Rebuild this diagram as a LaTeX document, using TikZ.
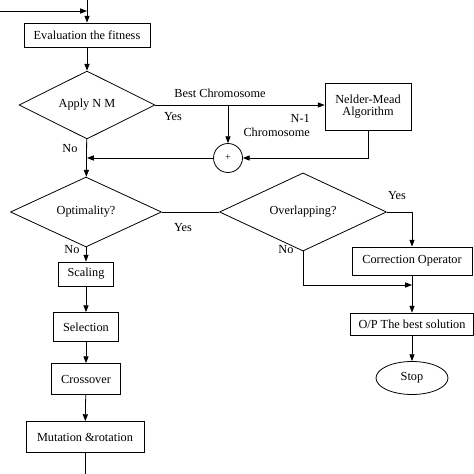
\documentclass[tikz,border=0pt]{standalone}
\usepackage{fontspec}
\setmainfont{Liberation Serif}
\usetikzlibrary{arrows.meta,positioning,shapes.geometric}
\tikzset{stepbox/.style={draw,rectangle,line width=0.8pt,align=center,inner sep=3pt},
  decide/.style={draw,diamond,line width=0.8pt,inner sep=0pt},
  flow/.style={-{Triangle[length=2.4mm,width=1.8mm]},line width=0.8pt},
  link/.style={line width=0.8pt},
  lbl/.style={inner sep=1pt,align=center}}

\begin{document}
\begin{tikzpicture}[x=1pt,y=-1pt,font=\fontsize{12.3}{14}\selectfont]
\useasboundingbox (0,0) rectangle (474,474);
\coordinate (in) at (87,0);
\coordinate (loop) at (0,11);
\node[stepbox,minimum width=126,minimum height=24] (eval) at (87,35) {Evaluation the fitness};
\node[decide,minimum width=136,minimum height=47] (applynm) at (87,105) {Apply N M};
\node[stepbox,minimum width=86,minimum height=47] (nelder) at (368,107) {Nelder-Mead\\[-2pt]Algorithm};
\node[draw,circle,line width=0.8pt,minimum size=29,inner sep=0pt,font=\fontsize{10}{11}\selectfont] (plus) at (228,158) {+};
\coordinate (split) at (228,105);
\node[decide,minimum width=151,minimum height=46] (optim) at (86,212) {Optimality?};
\node[decide,minimum width=167,minimum height=53] (overlap) at (303,212) {Overlapping?};
\node[stepbox,minimum width=120,minimum height=28] (correct) at (412,261) {Correction Operator};
\coordinate (join) at (412,285);
\node[stepbox,minimum width=123,minimum height=22] (out) at (412,324) {O/P The best solution};
\node[draw,ellipse,line width=0.8pt,minimum width=72,minimum height=33,inner sep=0pt] (stop) at (412,378) {Stop};
\node[stepbox,minimum width=55,minimum height=24] (scaling) at (86,274) {Scaling};
\node[stepbox,minimum width=65,minimum height=29] (selection) at (86,327) {Selection};
\node[stepbox,minimum width=69,minimum height=31] (crossover) at (86,379) {Crossover};
\node[stepbox,minimum width=118,minimum height=31] (mutation) at (85,437) {Mutation \&rotation};
\coordinate (back) at (85,474);
% labels
\node[lbl] (lbest) at (220,93) {Best Chromosome};
\node[lbl] (lyes1) at (173,117) {Yes};
\node[lbl,align=right,anchor=east] (lnm1) at (311,125) {N-1\\[0pt]Chromosome};
\node[lbl] (lno1) at (70,149) {No};
\node[lbl] (lyes2) at (183,228) {Yes};
\node[lbl] (lyes3) at (397,196) {Yes};
\node[lbl] (lno2) at (286,250) {No};
\node[lbl] (lno3) at (72,250) {No};
% connectors
\draw[flow] (loop) -- (loop -| eval.north);
\draw[flow] (in) -- (eval);
\draw[flow] (eval) -- (applynm);
\draw[flow] (applynm.east) -- (applynm.east -| nelder.west);
\draw[flow] (split) -- (plus);
\draw[flow] (nelder.south) |- (plus.east);
\draw[flow] (plus.west) -- (plus -| applynm.south);
\draw[flow] (applynm) -- (optim);
\draw[link] (optim.east) -- (overlap.west);
\draw[flow] (overlap.east) -| (correct.north);
\draw[flow] (overlap.south) |- (join);
\draw[flow] (correct) -- (out);
\draw[flow] (out) -- (stop);
\draw[flow] (optim) -- (scaling);
\draw[flow] (scaling) -- (selection);
\draw[flow] (selection) -- (crossover);
\draw[flow] (crossover) -- (mutation);
\draw[link] (mutation) -- (back);
\end{tikzpicture}
\end{document}
